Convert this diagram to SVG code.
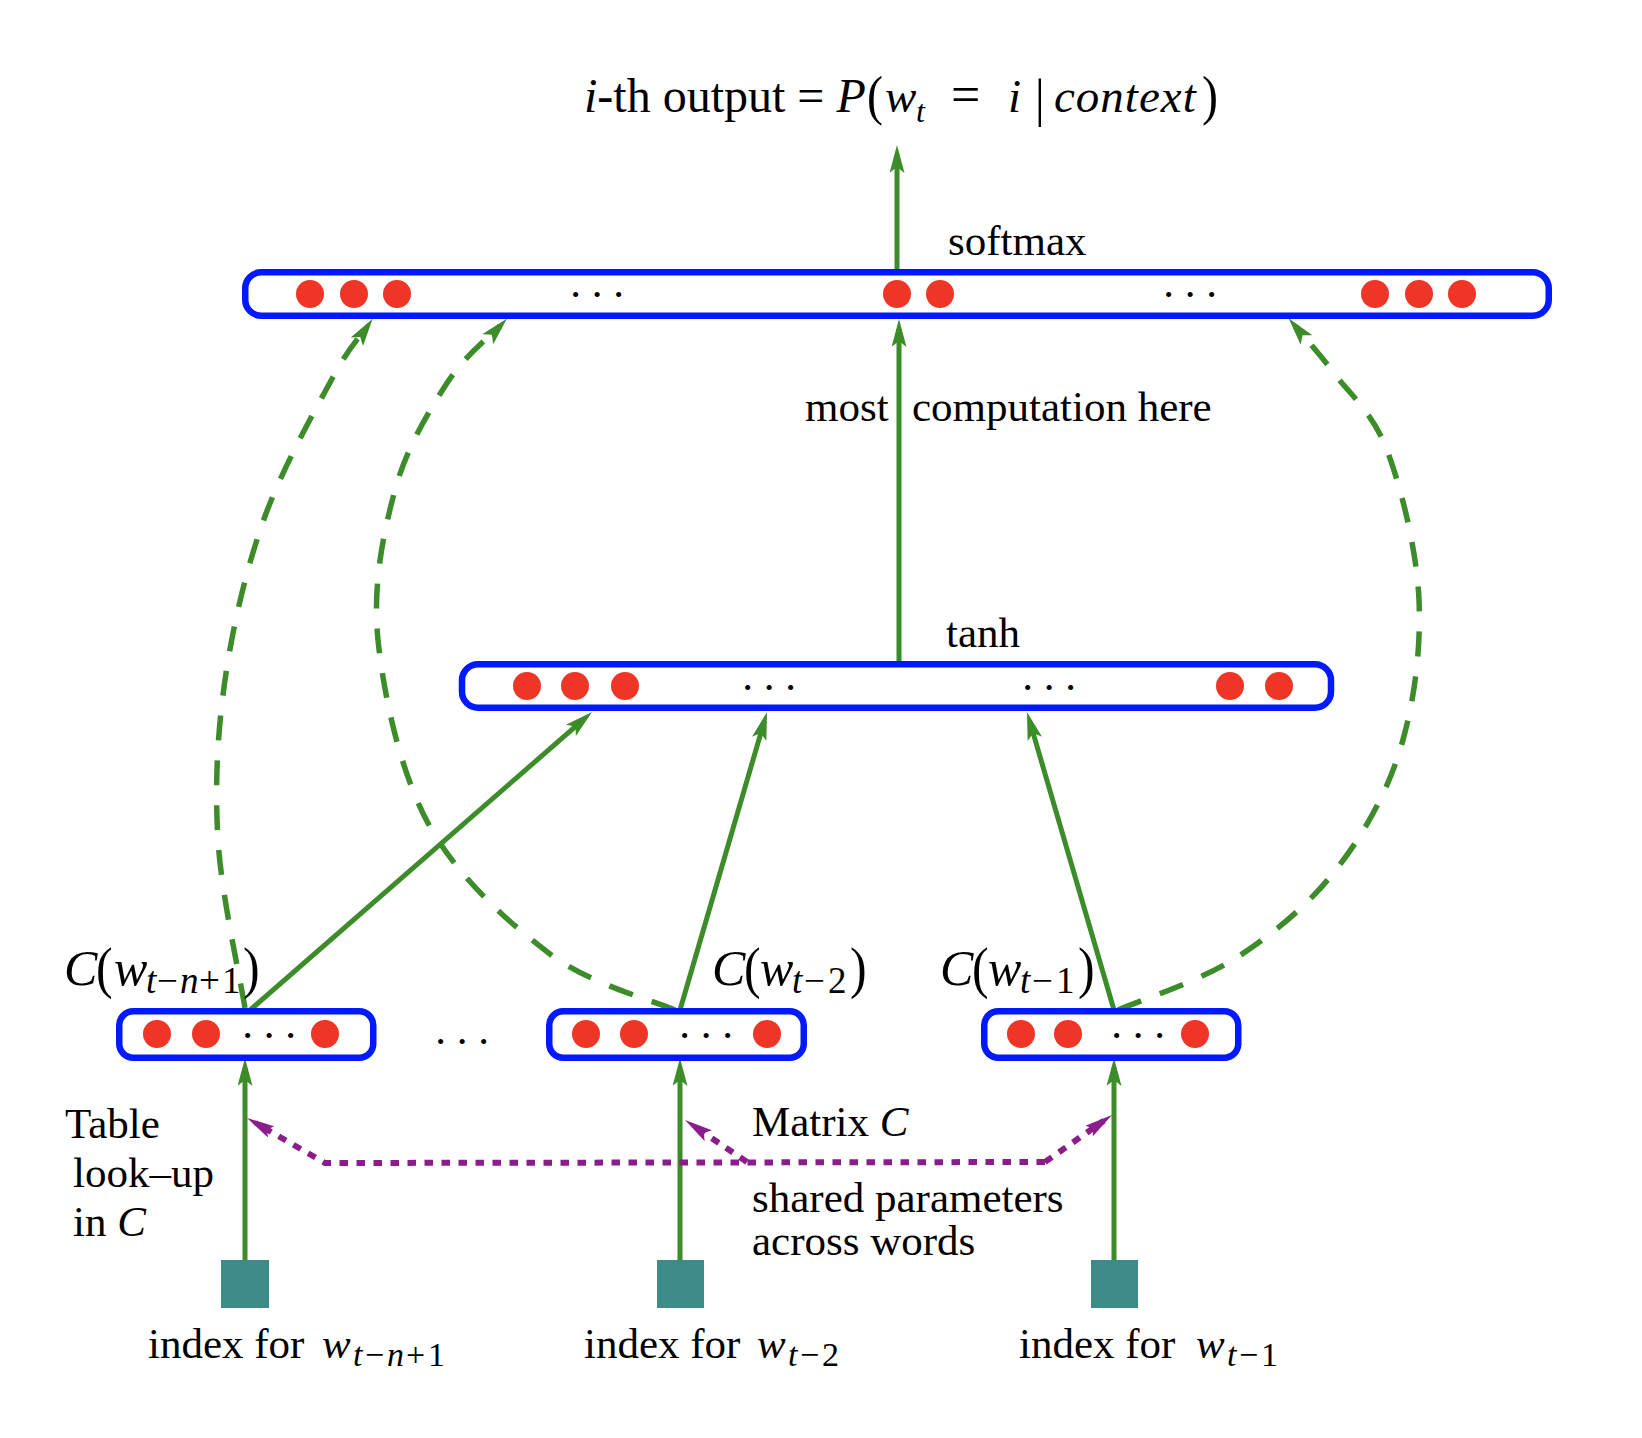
<svg xmlns="http://www.w3.org/2000/svg" width="1642" height="1438" viewBox="0 0 1642 1438">
<style>
.layer{fill:#ffffff;stroke:#0019ff;stroke-width:6.5}
.dot{fill:#ee3526}
.t{font-family:"Liberation Serif","Times New Roman",serif;fill:#000000;font-size:43px}
.it{font-style:italic}
.ell{font-family:"Liberation Serif","Times New Roman",serif;fill:#000000;font-size:43px}
.solid{fill:none;stroke:#3d8c2a;stroke-width:5}
.dash{fill:none;stroke:#3d8c2a;stroke-width:5.5;stroke-dasharray:25 20}
.dot-line{fill:none;stroke:#8a1c8c;stroke-width:6;stroke-dasharray:8.5 8.5}
.idx{fill:#3d8b89}
.big{font-size:50px}
.sub{font-size:37px}
.isub{font-size:34px}
</style>
<defs>
<marker id="ga" viewBox="0 0 28 15" markerWidth="28" markerHeight="15" refX="18" refY="7.5" orient="auto" markerUnits="userSpaceOnUse">
<path d="M28,7.5 L0,0 L6,7.5 L0,15 Z" fill="#3d8c2a"/>
</marker>
<marker id="pa" viewBox="0 0 28 13" markerWidth="28" markerHeight="13" refX="18" refY="6.5" orient="auto" markerUnits="userSpaceOnUse">
<path d="M28,6.5 L0,0 L5,6.5 L0,13 Z" fill="#8a1c8c"/>
</marker>
</defs>
<rect width="1642" height="1438" fill="#ffffff"/>

<g id="connectors">
<path class="solid" d="M897,269 V155" marker-end="url(#ga)"/>
<path class="solid" d="M899,661 V329" marker-end="url(#ga)"/>
<path class="solid" d="M249,1011 L584.5,718.6" marker-end="url(#ga)"/>
<path class="solid" d="M680,1010 L764.2,721.6" marker-end="url(#ga)"/>
<path class="solid" d="M1114,1010 L1029.8,721.6" marker-end="url(#ga)"/>
<path class="solid" d="M245,1260 V1068" marker-end="url(#ga)"/>
<path class="solid" d="M680,1260 V1068" marker-end="url(#ga)"/>
<path class="solid" d="M1114,1260 V1068" marker-end="url(#ga)"/>
<path class="dash" d="M245,1008 C240.5,980 221.3,894.7 218,840 C214.7,785.3 217.3,733.5 225,680 C232.7,626.5 246,569.5 264,519 C282,468.5 315.8,409 333,377 C350.2,345 361.3,335.3 367,327" marker-end="url(#ga)"/>
<path class="dash" d="M675,1010 C654.2,1000.7 591,984.8 550,954 C509,923.2 457.7,877.3 429,825 C400.3,772.7 383.7,695.8 378,640 C372.3,584.2 383.5,532.8 395,490 C406.5,447.2 429.5,410.3 447,383 C464.5,355.7 491.2,335.5 500,326" marker-end="url(#ga)"/>
<path class="dash" d="M1118,1010 C1137.7,1001.3 1199.8,981.2 1236,958 C1272.2,934.8 1307.7,905.7 1335,871 C1362.3,836.3 1386,795.2 1400,750 C1414,704.8 1421.2,650 1419,600 C1416.8,550 1401.3,488 1387,450 C1372.7,412 1348.3,392.7 1333,372 C1317.7,351.3 1301.3,333.7 1295,326" marker-end="url(#ga)"/>
<path class="dot-line" d="M1045,1162 L325,1163 L255.7,1123" marker-end="url(#pa)"/>
<path class="dot-line" d="M1045,1162 L1103.8,1120.7" marker-end="url(#pa)"/>
<path class="dot-line" d="M747,1162 L693.3,1125.6" marker-end="url(#pa)"/>
</g>

<g id="title">
<text class="t" x="584" y="112" style="font-size:48px"><tspan class="it">i</tspan>-th output = <tspan class="it">P</tspan></text>
<text class="t" style="font-size:48px" transform="translate(867,114) scale(1,1.15)">(</text>
<text class="t it" x="885" y="112" style="font-size:47px">w</text>
<text class="t it" x="916" y="122" style="font-size:32px">t</text>
<text class="t" x="951" y="112" style="font-size:52px">=</text>
<text class="t it" x="1008" y="112" style="font-size:47px">i</text>
<text class="t" style="font-size:48px" transform="translate(1035,116) scale(1,1.1)">|</text>
<text class="t it" x="1054" y="112" style="font-size:47px;letter-spacing:1px">context</text>
<text class="t" style="font-size:48px" transform="translate(1202,114) scale(1,1.15)">)</text>
</g>

<g id="softmax-layer">
<rect class="layer" x="245.25" y="272.25" width="1303.5" height="43.5" rx="16"/>
<circle class="dot" cx="310" cy="294" r="14"/>
<circle class="dot" cx="354" cy="294" r="14"/>
<circle class="dot" cx="397" cy="294" r="14"/>
<circle class="dot" cx="897" cy="294" r="14"/>
<circle class="dot" cx="940" cy="294" r="14"/>
<circle class="dot" cx="1375" cy="294" r="14"/>
<circle class="dot" cx="1419" cy="294" r="14"/>
<circle class="dot" cx="1462" cy="294" r="14"/>
<text class="ell" x="597" y="297" text-anchor="middle">. . .</text>
<text class="ell" x="1190" y="297" text-anchor="middle">. . .</text>
<text class="t" x="948" y="255">softmax</text>
</g>

<g id="hidden-label">
<text class="t" x="805" y="421">most</text>
<text class="t" x="912" y="421">computation here</text>
</g>

<g id="tanh-layer">
<rect class="layer" x="462" y="664.25" width="869" height="43.5" rx="16"/>
<circle class="dot" cx="527" cy="686" r="14"/>
<circle class="dot" cx="575" cy="686" r="14"/>
<circle class="dot" cx="625" cy="686" r="14"/>
<circle class="dot" cx="1230" cy="686" r="14"/>
<circle class="dot" cx="1279" cy="686" r="14"/>
<text class="ell" x="769" y="690" text-anchor="middle">. . .</text>
<text class="ell" x="1049" y="690" text-anchor="middle">. . .</text>
<text class="t" x="946" y="647">tanh</text>
</g>

<g id="emb-1">
<rect class="layer" x="119.25" y="1011.25" width="254" height="46.5" rx="14"/>
<circle class="dot" cx="157" cy="1034" r="14"/>
<circle class="dot" cx="206" cy="1034" r="14"/>
<circle class="dot" cx="325" cy="1034" r="14"/>
<text class="ell" x="269" y="1038" text-anchor="middle">. . .</text>
<text class="t it big" x="64" y="985">C</text>
<text class="t big" transform="translate(96,987) scale(1,1.15)">(</text>
<text class="t it big" x="114" y="985">w</text>
<text class="t sub" y="993"><tspan class="it" x="146">t</tspan><tspan x="157">−</tspan><tspan class="it" x="180">n</tspan><tspan x="199">+</tspan><tspan x="222">1</tspan></text>
<text class="t big" transform="translate(243,987) scale(1,1.15)">)</text>
</g>

<text class="ell" x="462" y="1044" text-anchor="middle">. . .</text>

<g id="emb-2">
<rect class="layer" x="549.25" y="1011.25" width="254.5" height="46.5" rx="14"/>
<circle class="dot" cx="586" cy="1034" r="14"/>
<circle class="dot" cx="634" cy="1034" r="14"/>
<circle class="dot" cx="767" cy="1034" r="14"/>
<text class="ell" x="706" y="1038" text-anchor="middle">. . .</text>
<text class="t it big" x="712" y="985">C</text>
<text class="t big" transform="translate(744,987) scale(1,1.15)">(</text>
<text class="t it big" x="760" y="985">w</text>
<text class="t sub" y="993"><tspan class="it" x="792">t</tspan><tspan x="804">−</tspan><tspan x="828">2</tspan></text>
<text class="t big" transform="translate(850,987) scale(1,1.15)">)</text>
</g>

<g id="emb-3">
<rect class="layer" x="984.25" y="1011.25" width="254" height="46.5" rx="14"/>
<circle class="dot" cx="1021" cy="1034" r="14"/>
<circle class="dot" cx="1068" cy="1034" r="14"/>
<circle class="dot" cx="1195" cy="1034" r="14"/>
<text class="ell" x="1138" y="1038" text-anchor="middle">. . .</text>
<text class="t it big" x="940" y="985">C</text>
<text class="t big" transform="translate(972,987) scale(1,1.15)">(</text>
<text class="t it big" x="988" y="985">w</text>
<text class="t sub" y="993"><tspan class="it" x="1020">t</tspan><tspan x="1032">−</tspan><tspan x="1056">1</tspan></text>
<text class="t big" transform="translate(1078,987) scale(1,1.15)">)</text>
</g>

<g id="lookup-label">
<text class="t" x="65" y="1138">Table</text>
<text class="t" x="73" y="1187">look–up</text>
<text class="t" x="73" y="1236">in <tspan class="it">C</tspan></text>
</g>

<g id="matrix-label">
<text class="t" x="752" y="1136">Matrix <tspan class="it">C</tspan></text>
<text class="t" x="752" y="1212">shared parameters</text>
<text class="t" x="752" y="1255">across words</text>
</g>

<g id="idx-1">
<rect class="idx" x="221" y="1260" width="48" height="48"/>
<text class="t" x="148" y="1358">index for</text>
<text class="t it" x="322" y="1358">w</text>
<text class="t isub" y="1366"><tspan class="it" x="353">t</tspan><tspan x="365">−</tspan><tspan class="it" x="387">n</tspan><tspan x="406">+</tspan><tspan x="428">1</tspan></text>
</g>

<g id="idx-2">
<rect class="idx" x="657" y="1260" width="47" height="48"/>
<text class="t" x="584" y="1358">index for</text>
<text class="t it" x="757" y="1358">w</text>
<text class="t isub" y="1366"><tspan class="it" x="788">t</tspan><tspan x="800">−</tspan><tspan x="822">2</tspan></text>
</g>

<g id="idx-3">
<rect class="idx" x="1091" y="1260" width="47" height="48"/>
<text class="t" x="1019" y="1358">index for</text>
<text class="t it" x="1196" y="1358">w</text>
<text class="t isub" y="1366"><tspan class="it" x="1227">t</tspan><tspan x="1239">−</tspan><tspan x="1261">1</tspan></text>
</g>
</svg>
